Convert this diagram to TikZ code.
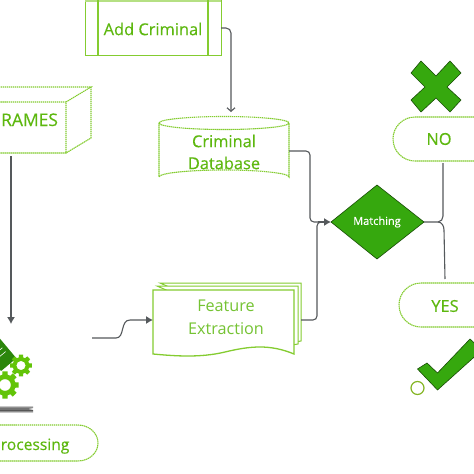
\documentclass[tikz,border=0pt]{standalone}
\usepackage{fontspec}
\setmainfont{Open Sans}
\newfontfamily\semi{Open Sans}[FakeBold=0.35]
\usetikzlibrary{arrows.meta}
\definecolor{lg}{HTML}{84CC30}
\definecolor{tg}{HTML}{5DB80F}
\definecolor{dg}{HTML}{36A80E}
\definecolor{ln}{HTML}{55595C}
\definecolor{gearc}{HTML}{62C408}
\tikzset{
 dotbox/.style={draw=lg,line width=1.1pt,dash pattern=on 1.4pt off 0.6pt},
 solidbox/.style={draw=lg,line width=1.3pt,fill=white},
 lbl/.style={text=tg,font=\fontsize{16.4}{18}\selectfont\semi,inner sep=0pt,align=center},
 lbltwo/.style={text=tg!85!white,font=\fontsize{16.2}{18}\selectfont,inner sep=0pt,align=center},
 wire/.style={draw=ln,line width=1.1pt,rounded corners=4pt},
 head/.style={-{Latex[length=7pt,width=8pt]}},
 solidmark/.style={fill=dg,draw=black!55!dg,line width=0.6pt}
}
\newcommand{\gearshape}[4]{% x y R colour
 \fill[#4,even odd rule] ({#1+#3*cos(-11)},{#2+#3*sin(-11)})
 \foreach \a in {0,45,...,315}{
  -- ({#1+#3*cos(\a-11)},{#2+#3*sin(\a-11)}) -- ({#1+#3*cos(\a+11)},{#2+#3*sin(\a+11)})
  -- ({#1+0.76*#3*cos(\a+15)},{#2+0.76*#3*sin(\a+15)}) -- ({#1+0.76*#3*cos(\a+30)},{#2+0.76*#3*sin(\a+30)})
 } -- cycle (#1,#2) circle ({0.42*#3});
}
\begin{document}
\begin{tikzpicture}[x=1pt,y=-1pt]
\useasboundingbox (0,0) rectangle (474,474);
\clip (0,0) rectangle (474,474);
\fill[white] (0,0) rectangle (474,474);
% Add criminal
\node[solidbox,minimum width=136pt,minimum height=60pt,anchor=north west,inner sep=0pt] (add) at (85,-5) {};
\fill[lg!60!white] (85,0) rectangle (221,1.5);
\draw[lg,line width=1.3pt] (98,0) -- (98,55) (208,0) -- (208,55);
\node[lbl] (addt) at (153,29) {Add Criminal};
% Database
\draw[dotbox] (159,123) arc[start angle=180,end angle=360,x radius=65,y radius=6.5] arc[start angle=0,end angle=180,x radius=65,y radius=6.5]
  -- (159,177) arc[start angle=180,end angle=360,x radius=65,y radius=7] -- (289,123);
\node[lbl] (crim) at (224,141) {Criminal};
\node[lbl] (dbase) at (224,163) {Database};
\coordinate (dbr) at (289,151);
% wire add->db
\coordinate (addr) at (221,28);
\coordinate (dbt) at (231,112);
\draw[draw=ln,line width=1.1pt,rounded corners=5pt,-{Straight Barb[length=3.5pt,width=8pt]}] (addr) -- (231,28) -- (dbt);
% Frames
\draw[dotbox] (-5,102) -- (66,102) -- (66,153) -- (-5,153)
 (66,102) -- (91,87) -- (-5,87) (91,87) -- (91,138) -- (66,153);
\node[lbl,anchor=base west] (fr) at (1,126) {\fontsize{17.4}{20}\selectfont\semi RAMES};
\coordinate (frb) at (11,156);
\coordinate (gt) at (11,324);
\draw[draw=ln,line width=1.1pt,head] (frb) -- (gt);
% gears
\fill[dg!80!black,rotate around={40:(2,352)}] (-11,339) rectangle (9,366);
\foreach \yy in {344,349,354}{\draw[white,line width=0.6pt,rotate around={40:(2,352)}] (-7,\yy) -- (5,\yy);}
\gearshape{5}{385}{14}{gearc}
\gearshape{21}{365.5}{11}{gearc}
\fill[black!55] (-5,407.5) rectangle (28,410.5);
\shade[left color=black!55,right color=white] (28,407.5) rectangle (33,410.5);
\shade[top color=white,bottom color=black!55] (-5,405) rectangle (33,407.5);
\shade[top color=black!55,bottom color=white] (-5,410.5) rectangle (33,413);
% Processing pill
\draw[dotbox] (-10,425) -- (78,425) arc[start angle=-90,end angle=90,x radius=20,y radius=18] -- (-10,461);
\node[lbl,anchor=base west] (pr) at (0.6,450) {\fontsize{15.6}{18}\selectfont\semi rocessing};
% Feature extraction
\draw[solidbox,line width=1pt] (160,283) -- (301,283) -- (301,341) -- (295,342) -- cycle;
\draw[solidbox,line width=1pt] (157,286) -- (298,286) -- (298,344) -- (292,345) -- cycle;
\draw[solidbox] (153,290) -- (294,290) -- (294,354) .. controls (270,344) and (250,346) .. (225,352) .. controls (200,358) and (175,356) .. (153,354) -- cycle;
\node[lbltwo] (fe1) at (226,306) {Feature};
\node[lbltwo] (fe2) at (226,329) {Extraction};
\coordinate (fin) at (92,338);
\coordinate (fel) at (153,320);
\draw[draw=ln,line width=1.1pt,head] (fin) -- (116,338) .. controls (125,338) and (120,320) .. (130,320) -- (fel);
% Matching
\coordinate (dl) at (331,222);
\draw[solidmark] (331,222) -- (377,185) -- (424,222) -- (377,259) -- cycle;
\node[text=white,font=\fontsize{11}{13}\selectfont\semi,inner sep=0pt] (mt) at (377,222) {Matching};
% wires into diamond
\coordinate (fer) at (301,320);
\draw[wire] (dbr) -- (310,151) -- (310,222) -- (322,222);
\draw[wire] (fer) -- (317,320) -- (317,222) -- (322,222);
\draw[draw=ln,line width=1.1pt,head] (318,222) -- (dl);
% right junction
\coordinate (dr) at (424,222);
\coordinate (noB) at (443,163);
\coordinate (yesT) at (445,279);
\draw[draw=ln,line width=1.1pt] (dr) -- (438,222) to[out=0,in=-90] (443,216) -- (noB);
\draw[draw=ln,line width=1.1pt] (438,222) to[out=0,in=90] (444,230) -- (yesT);
% X
\draw[solidmark] (421,61) -- (436,76) -- (450,61) -- (461,73) -- (447,87) -- (461,100) -- (450,112) -- (436,98) -- (421,112) -- (411,100) -- (425,87) -- (411,73) -- cycle;
% NO pill
\draw[dotbox] (500,117) -- (415,117) arc[start angle=270,end angle=90,x radius=22,y radius=22] -- (500,161);
\node[lbl] (no) at (439,139) {NO};
% YES pill
\draw[dotbox] (500,283) -- (421,283) arc[start angle=270,end angle=90,x radius=22,y radius=22] -- (500,327);
\node[lbl] (yes) at (445,306) {YES};
% check
\draw[solidmark] (417.5,369) -- (427,363) -- (437.5,373) -- (470,339) -- (482,350) -- (437.5,390) -- cycle;
\draw[lg!70!olive,line width=1.2pt] (417.5,388) circle (6.5);
\end{tikzpicture}
\end{document}
